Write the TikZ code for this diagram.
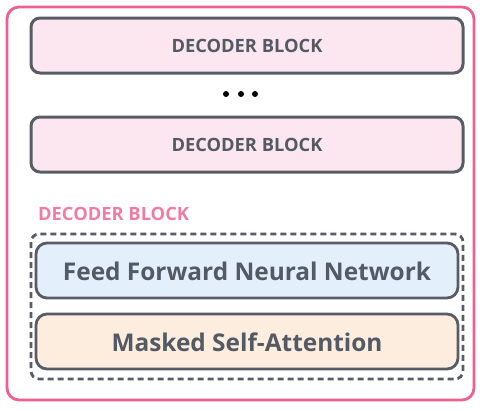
\documentclass[tikz,border=0pt]{standalone}
\usepackage{fontspec}
\setmainfont{Open Sans}
\definecolor{pinkline}{HTML}{EE6090}
\definecolor{pinklabel}{HTML}{F07CA2}
\definecolor{grayline}{HTML}{575C66}
\definecolor{graytext}{HTML}{535A64}
\definecolor{pinkfill}{HTML}{FCE6EF}
\definecolor{bluefill}{HTML}{E4EFFC}
\definecolor{peachfill}{HTML}{FCEDDF}
\tikzset{
  outerbox/.style={draw=pinkline, line width=2.8pt, rounded corners=12pt},
  decbox/.style={draw=grayline, line width=3pt, rounded corners=9pt, fill=pinkfill},
  layerbox/.style={draw=grayline, line width=2.8pt, rounded corners=11pt},
  dashbox/.style={draw=grayline, line width=2.8pt, rounded corners=8pt, dash pattern=on 6pt off 4pt},
  smalltext/.style={font=\fontsize{18.3}{21}\selectfont\bfseries, text=graytext},
  bigtext/.style={font=\fontsize{24.4}{28}\selectfont\bfseries, text=graytext},
  dot/.style={circle, fill=black, inner sep=0pt, minimum size=6pt}
}
\begin{document}
\begin{tikzpicture}[x=1pt,y=-1pt]
\useasboundingbox (0,0) rectangle (484,410);
\draw[outerbox] (7,7) rectangle (474,400);
\draw[decbox] (31,18) rectangle (463,73);
\node[smalltext] (d1) at (247,46) {DECODER BLOCK};
\node[dot] (p1) at (226,94) {};
\node[dot] (p2) at (241,94) {};
\node[dot] (p3) at (255,94) {};
\draw[decbox] (31,117) rectangle (463,172);
\node[smalltext] (d2) at (247,145) {DECODER BLOCK};
\node[smalltext, text=pinklabel, anchor=west, inner sep=0pt] (lbl) at (38,214) {DECODER BLOCK};
\draw[dashbox] (31,234) rectangle (463,379);
\draw[layerbox, fill=bluefill] (36,243) rectangle (458,298);
\node[bigtext] (ff) at (247,271) {Feed Forward Neural Network};
\draw[layerbox, fill=peachfill] (36,314) rectangle (458,369);
\node[bigtext] (ms) at (247,342) {Masked Self-Attention};
\end{tikzpicture}
\end{document}
